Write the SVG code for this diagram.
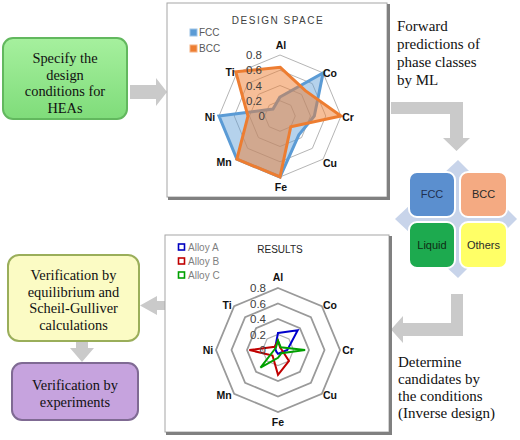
<svg xmlns="http://www.w3.org/2000/svg" width="520" height="440" viewBox="0 0 520 440">
<style>
.box{font-family:"Liberation Serif","Times New Roman",serif;font-size:14.4px;fill:#111;text-anchor:middle}
.side{font-family:"Liberation Serif","Times New Roman",serif;font-size:15px;fill:#111}
.ax{font-family:"Liberation Sans",Arial,sans-serif;font-size:10.5px;font-weight:bold;fill:#111;text-anchor:middle}
.tick{font-family:"Liberation Sans",Arial,sans-serif;font-size:11.5px;fill:#404040;text-anchor:end}
.leg{font-family:"Liberation Sans",Arial,sans-serif;font-size:10px;fill:#7f7f7f}
.q{font-family:"Liberation Sans",Arial,sans-serif;font-size:11px;text-anchor:middle}
.arrow{fill:#cacaca}
.ring1{fill:none;stroke:#b5b5b5;stroke-width:1}
.ring2{fill:none;stroke:#9a9a9a;stroke-width:1.8}
.frame{fill:#fff;stroke:#a6a6a6;stroke-width:1}
.shadow{fill:none;stroke:#808080;stroke-width:3}
</style>
<defs>
<linearGradient id="gGreen" x1="0" y1="0" x2="0" y2="1">
<stop offset="0" stop-color="#a6f09e"/><stop offset="1" stop-color="#7fdc7a"/>
</linearGradient>
</defs>

<g id="connectors">
<polygon class="arrow" points="130,85 156,85 156,78 167,92 156,106 156,99 130,99"/>
<polygon class="arrow" points="391,102 463,102 463,138 470,138 456.5,151 443,138 450,138 450,114 391,114"/>
<polygon class="arrow" points="451,294 463,294 463,336 403,336 403,343 391,329.5 403,316 403,323 451,323"/>
<polygon class="arrow" points="165,301 157,301 157,296 140,305.5 157,315 157,310 165,310"/>
<polygon class="arrow" points="76,341 88,341 88,348 94,348 82,362 70,348 76,348"/>
</g>

<g id="specify">
<rect x="3" y="38" width="124" height="81" rx="10" fill="url(#gGreen)" stroke="#62b85e" stroke-width="2"/>
<text class="box" x="65" y="63">Specify the</text>
<text class="box" x="65" y="79.5">design</text>
<text class="box" x="65" y="96">conditions for</text>
<text class="box" x="65" y="112.5">HEAs</text>
</g>

<g id="design-space">
<rect class="frame" x="167" y="3" width="220" height="194"/>
<polyline class="shadow" points="388.5,4 388.5,198.5 168,198.5"/>
<text x="278" y="24" font-family="Liberation Sans,Arial,sans-serif" font-size="10" letter-spacing="1.5" fill="#404040" text-anchor="middle">DESIGN SPACE</text>
<rect x="190" y="29" width="7" height="7" fill="#5b9bd5" stroke="#9dc3e6" stroke-width="1"/>
<text class="leg" x="199" y="36" style="fill:#595959">FCC</text>
<rect x="190" y="45" width="7" height="7" fill="#ed7d31" stroke="#f4b183" stroke-width="1"/>
<text class="leg" x="199" y="52" style="fill:#595959">BCC</text>
<polygon class="ring1" points="280,55 323.1,72.9 341,116 323.1,159.1 280,177 236.9,159.1 219,116 236.9,72.9"/>
<polygon class="ring1" points="280,70.25 312.35,83.65 325.75,116 312.35,148.35 280,161.75 247.65,148.35 234.25,116 247.65,83.65"/>
<polygon class="ring1" points="280,85.5 301.57,94.43 310.5,116 301.57,137.57 280,146.5 258.43,137.57 249.5,116 258.43,94.43"/>
<polygon class="ring1" points="280,100.75 290.78,105.22 295.25,116 290.78,126.78 280,131.25 269.22,126.78 264.75,116 269.22,105.22"/>
<polygon points="280,96.94 323.13,72.87 314.31,116 298.87,134.87 280,177 236.87,159.13 219,116 272.99,108.99" fill="#5b9bd5" fill-opacity="0.45" stroke="#5b9bd5" stroke-width="3"/>
<polygon points="280,67.2 305.34,90.66 341,116 290.78,126.78 280,177 236.87,159.13 247.97,116 235.79,71.79" fill="#ed7d31" fill-opacity="0.5" stroke="#ed7d31" stroke-width="3"/>
<text class="tick" x="262" y="59">0.8</text>
<text class="tick" x="262" y="74">0.6</text>
<text class="tick" x="262" y="89.5">0.4</text>
<text class="tick" x="262" y="104.75">0.2</text>
<text class="tick" x="265" y="120">0</text>
<text class="ax" x="281" y="49">Al</text>
<text class="ax" x="330" y="77">Co</text>
<text class="ax" x="348" y="121">Cr</text>
<text class="ax" x="330" y="167">Cu</text>
<text class="ax" x="281" y="191">Fe</text>
<text class="ax" x="224" y="166">Mn</text>
<text class="ax" x="210" y="121">Ni</text>
<text class="ax" x="230" y="76">Ti</text>
</g>

<g id="forward-label">
<text class="side" x="397" y="31">Forward</text>
<text class="side" x="397" y="49">predictions of</text>
<text class="side" x="397" y="67">phase classes</text>
<text class="side" x="397" y="85">by ML</text>
</g>

<g id="phase-classes">
<polygon points="458,160 517,219 458,278 395,219" fill="#c8d4ea"/>
<rect x="409" y="172" width="46" height="45" rx="8" fill="#5b8fcf" stroke="#fff" stroke-width="2"/>
<rect x="460" y="172" width="47" height="45" rx="8" fill="#f4aa82" stroke="#fff" stroke-width="2"/>
<rect x="409" y="222" width="46" height="46" rx="8" fill="#1daa4f" stroke="#fff" stroke-width="2"/>
<rect x="460" y="222" width="47" height="46" rx="8" fill="#ffff66" stroke="#fff" stroke-width="2"/>
<text class="q" x="432" y="198" fill="#1f3050">FCC</text>
<text class="q" x="483.5" y="198" fill="#2a2a2a">BCC</text>
<text class="q" x="432" y="249" fill="#0f2a14">Liquid</text>
<text class="q" x="483.5" y="249" fill="#2a2a2a">Others</text>
</g>

<g id="inverse-label">
<text class="side" x="398" y="367">Determine</text>
<text class="side" x="398" y="384">candidates by</text>
<text class="side" x="398" y="401">the conditions</text>
<text class="side" x="398" y="418">(Inverse design)</text>
</g>

<g id="results">
<rect class="frame" x="165" y="235" width="224" height="197"/>
<polyline class="shadow" points="390.5,236 390.5,433.5 166,433.5"/>
<text x="280" y="253" font-family="Liberation Sans,Arial,sans-serif" font-size="10" fill="#262626" text-anchor="middle">RESULTS</text>
<rect x="178.5" y="244" width="6" height="6" fill="none" stroke="#0000c0" stroke-width="1.6"/>
<text class="leg" x="188" y="250.5">Alloy A</text>
<rect x="178.5" y="258" width="6" height="6" fill="none" stroke="#c00000" stroke-width="1.6"/>
<text class="leg" x="188" y="264.5">Alloy B</text>
<rect x="178.5" y="272" width="6" height="6" fill="none" stroke="#00a000" stroke-width="1.6"/>
<text class="leg" x="188" y="278.5">Alloy C</text>
<polygon class="ring2" points="278,288 321.84,306.16 340,350 321.84,393.84 278,412 234.16,393.84 216,350 234.16,306.16"/>
<polygon class="ring2" points="278,303.5 310.88,317.12 324.5,350 310.88,382.88 278,396.5 245.12,382.88 231.5,350 245.12,317.12"/>
<polygon class="ring2" points="278,319 299.92,328.08 309,350 299.92,371.92 278,381 256.08,371.92 247,350 256.08,328.08"/>
<polygon class="ring2" points="278,334.5 288.96,339.04 293.5,350 288.96,360.96 278,365.5 267.04,360.96 262.5,350 267.04,339.04" style="stroke:#b0b0b0;stroke-width:1.2"/>
<polygon points="278,332.95 297.73,330.27 287.3,350 280.74,352.74 278,353.88 276.36,351.64 275.67,350 275.26,347.26" fill="none" stroke="#0000cc" stroke-width="2"/>
<polygon points="278,340.7 280.19,347.81 281.88,350 288.96,360.96 278,374.8 272.52,355.48 249.32,350 274.71,346.71" fill="none" stroke="#c00000" stroke-width="2"/>
<polygon points="278,340.7 280.74,347.26 305.13,350 281.29,353.29 278,357.75 260.46,367.54 274.13,350 275.81,347.81" fill="none" stroke="#00a000" stroke-width="2"/>
<text class="tick" x="266" y="292">0.8</text>
<text class="tick" x="266" y="307.5">0.6</text>
<text class="tick" x="266" y="323">0.4</text>
<text class="tick" x="266" y="338.5">0.2</text>
<text class="tick" x="266" y="354">0</text>
<text class="ax" x="278" y="281">Al</text>
<text class="ax" x="330" y="309">Co</text>
<text class="ax" x="348" y="354">Cr</text>
<text class="ax" x="330" y="399">Cu</text>
<text class="ax" x="278" y="426">Fe</text>
<text class="ax" x="224" y="399">Mn</text>
<text class="ax" x="208" y="354">Ni</text>
<text class="ax" x="227" y="309">Ti</text>
</g>

<g id="verify-calc">
<rect x="8" y="255" width="131" height="86" rx="11" fill="#fbfbc4" stroke="#9aae5a" stroke-width="2"/>
<text class="box" x="73.5" y="280">Verification by</text>
<text class="box" x="73.5" y="297">equilibrium and</text>
<text class="box" x="73.5" y="313">Scheil-Gulliver</text>
<text class="box" x="73.5" y="330">calculations</text>
</g>

<g id="verify-exp">
<rect x="12" y="363" width="126" height="57" rx="10" fill="#c6a3de" stroke="#7f6a93" stroke-width="2"/>
<text class="box" x="75" y="390">Verification by</text>
<text class="box" x="75" y="407">experiments</text>
</g>
</svg>
